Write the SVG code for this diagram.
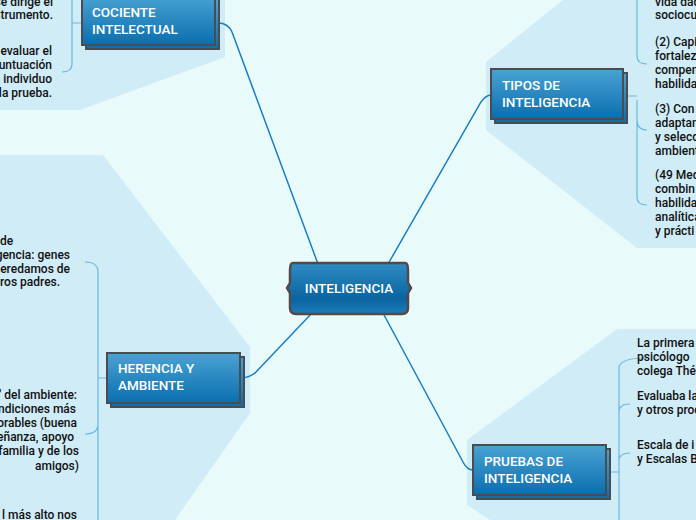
<svg xmlns="http://www.w3.org/2000/svg" width="696" height="520" viewBox="0 0 696 520">
<defs>
<linearGradient id="g" x1="0" y1="0" x2="0" y2="1"><stop offset="0" stop-color="#4aa3d3"/><stop offset="1" stop-color="#0a6eae"/></linearGradient>
<linearGradient id="gc" x1="0" y1="0" x2="0" y2="1"><stop offset="0" stop-color="#2f8cc4"/><stop offset="0.7" stop-color="#0a64a0"/><stop offset="1" stop-color="#1b7dbb"/></linearGradient>
<style>
.reg{fill:#d0ecf7}
.nb{fill:url(#g);stroke:#4b4b52;stroke-width:2}
.nt{font-family:Roboto,"Liberation Sans",sans-serif;font-size:13.5px;font-weight:500;fill:#fff}
.t{font-family:Roboto,"Liberation Sans",sans-serif;font-size:12px;font-weight:500;fill:#111}
.e{text-anchor:end}
.c{fill:none;stroke:#1a7fc0;stroke-width:1.5}
.b{fill:none;stroke:#6ab8de;stroke-width:1.2}
</style>
</defs>
<rect width="696" height="520" fill="#e9fafb"/>
<polygon class="reg" points="0,0 225,0 225,57 80,110 0,110"/>
<polygon class="reg" points="0,155 103,155 250,347 250,413 175,520 0,520"/>
<polygon class="reg" points="563,0 696,0 696,248 637,248 486,130 486,62"/>
<polygon class="reg" points="617,329 696,329 696,520 490,520 467,505 467,440"/>
<g id="connectors">
<path class="c" d="M318,264 L232,32 Q228,23 218,23"/>
<path class="c" d="M388,264 L481,102 Q486,95 491,95"/>
<path class="c" d="M312,313 L256,372 Q250,378 240,378"/>
<path class="c" d="M383,313 L463,462 Q467,470 473,470"/>
<path class="b" d="M82,23 H72 M72,-5 V64 Q72,72 62,72"/>
<path class="b" d="M107,378 H98 M85,262 Q98,262 98,272 V520 M98,424 Q98,434 85,434"/>
<path class="b" d="M623,96 H637 M637,0 V56 Q637,64 647,64 M637,120 Q637,130 647,130 M637,100 V197 Q637,205 647,205"/>
<path class="b" d="M606,472 H619 M647,358 Q619,358 619,368 V520 M619,412 Q619,404 630,404 M619,461 Q619,453 630,453"/>
</g>
<g id="cociente">
<rect class="nb" x="86" y="-1" width="133" height="50"/>
<rect class="nb" x="82" y="-5" width="133" height="50"/>
<text class="nt" x="92" y="17">COCIENTE</text><text class="nt" x="92" y="34">INTELECTUAL</text>
<text class="t e" x="53" y="6">se dirige el</text><text class="t e" x="53" y="19">strumento.</text>
<text class="t e" x="52" y="55">evaluar el</text><text class="t e" x="52" y="69">untuación</text><text class="t e" x="52" y="83">n individuo</text><text class="t e" x="52" y="97">la prueba.</text>
</g>
<g id="tipos">
<rect class="nb" x="495" y="73" width="132" height="50"/>
<rect class="nb" x="491" y="69" width="132" height="50"/>
<text class="nt" x="502" y="90">TIPOS DE</text><text class="nt" x="502" y="107">INTELIGENCIA</text>
<text class="t" x="655" y="6">vida dad</text><text class="t" x="655" y="19">sociocu</text>
<text class="t" x="655" y="46">(2) Capi</text><text class="t" x="655" y="60">fortalez</text><text class="t" x="655" y="74">compen</text><text class="t" x="655" y="88">habilida</text>
<text class="t" x="655" y="113">(3) Con</text><text class="t" x="655" y="127">adaptan</text><text class="t" x="655" y="141">y selecc</text><text class="t" x="655" y="155">ambient</text>
<text class="t" x="655" y="179">(49 Med</text><text class="t" x="655" y="193">combin</text><text class="t" x="655" y="207">habilida</text><text class="t" x="655" y="221">analítica</text><text class="t" x="655" y="235">y prácti</text>
</g>
<g id="herencia">
<rect class="nb" x="111" y="357" width="133" height="50"/>
<rect class="nb" x="107" y="353" width="133" height="50"/>
<text class="nt" x="118" y="373">HERENCIA Y</text><text class="nt" x="118" y="390">AMBIENTE</text>
<text class="t" x="0" y="245">de</text><text class="t e" x="70" y="259">gencia: genes</text><text class="t e" x="70" y="273">eredamos de</text><text class="t" x="0" y="286">ros padres.</text>
<text class="t e" x="77" y="399">' del ambiente:</text><text class="t e" x="76" y="413">ndiciones más</text><text class="t e" x="77" y="427">orables (buena</text><text class="t e" x="74" y="441">eñanza, apoyo</text><text class="t e" x="79" y="455">familia y de los</text><text class="t e" x="79" y="470">amigos)</text>
<text class="t e" x="77" y="519">l más alto nos</text>
</g>
<g id="pruebas">
<rect class="nb" x="477" y="449" width="133" height="50"/>
<rect class="nb" x="473" y="445" width="133" height="50"/>
<text class="nt" x="484" y="466">PRUEBAS DE</text><text class="nt" x="484" y="483">INTELIGENCIA</text>
<text class="t" x="637" y="347">La primera</text><text class="t" x="637" y="361">psicólogo</text><text class="t" x="637" y="375">colega Thé</text>
<text class="t" x="637" y="400">Evaluaba la</text><text class="t" x="637" y="414">y otros proc</text>
<text class="t" x="637" y="449">Escala de i</text><text class="t" x="637" y="463">y Escalas B</text>
</g>
<g id="central">
<path d="M293,263 H405 Q408,263 408,270 V283 L411,288 L408,293 V308 Q408,314 402,314 H296 Q290,314 290,308 V293 L287,288 L290,283 V270 Q290,263 293,263 Z" fill="url(#gc)" stroke="#564848" stroke-width="2.5"/>
<text class="nt" x="349" y="293" text-anchor="middle">INTELIGENCIA</text>
</g>
</svg>
